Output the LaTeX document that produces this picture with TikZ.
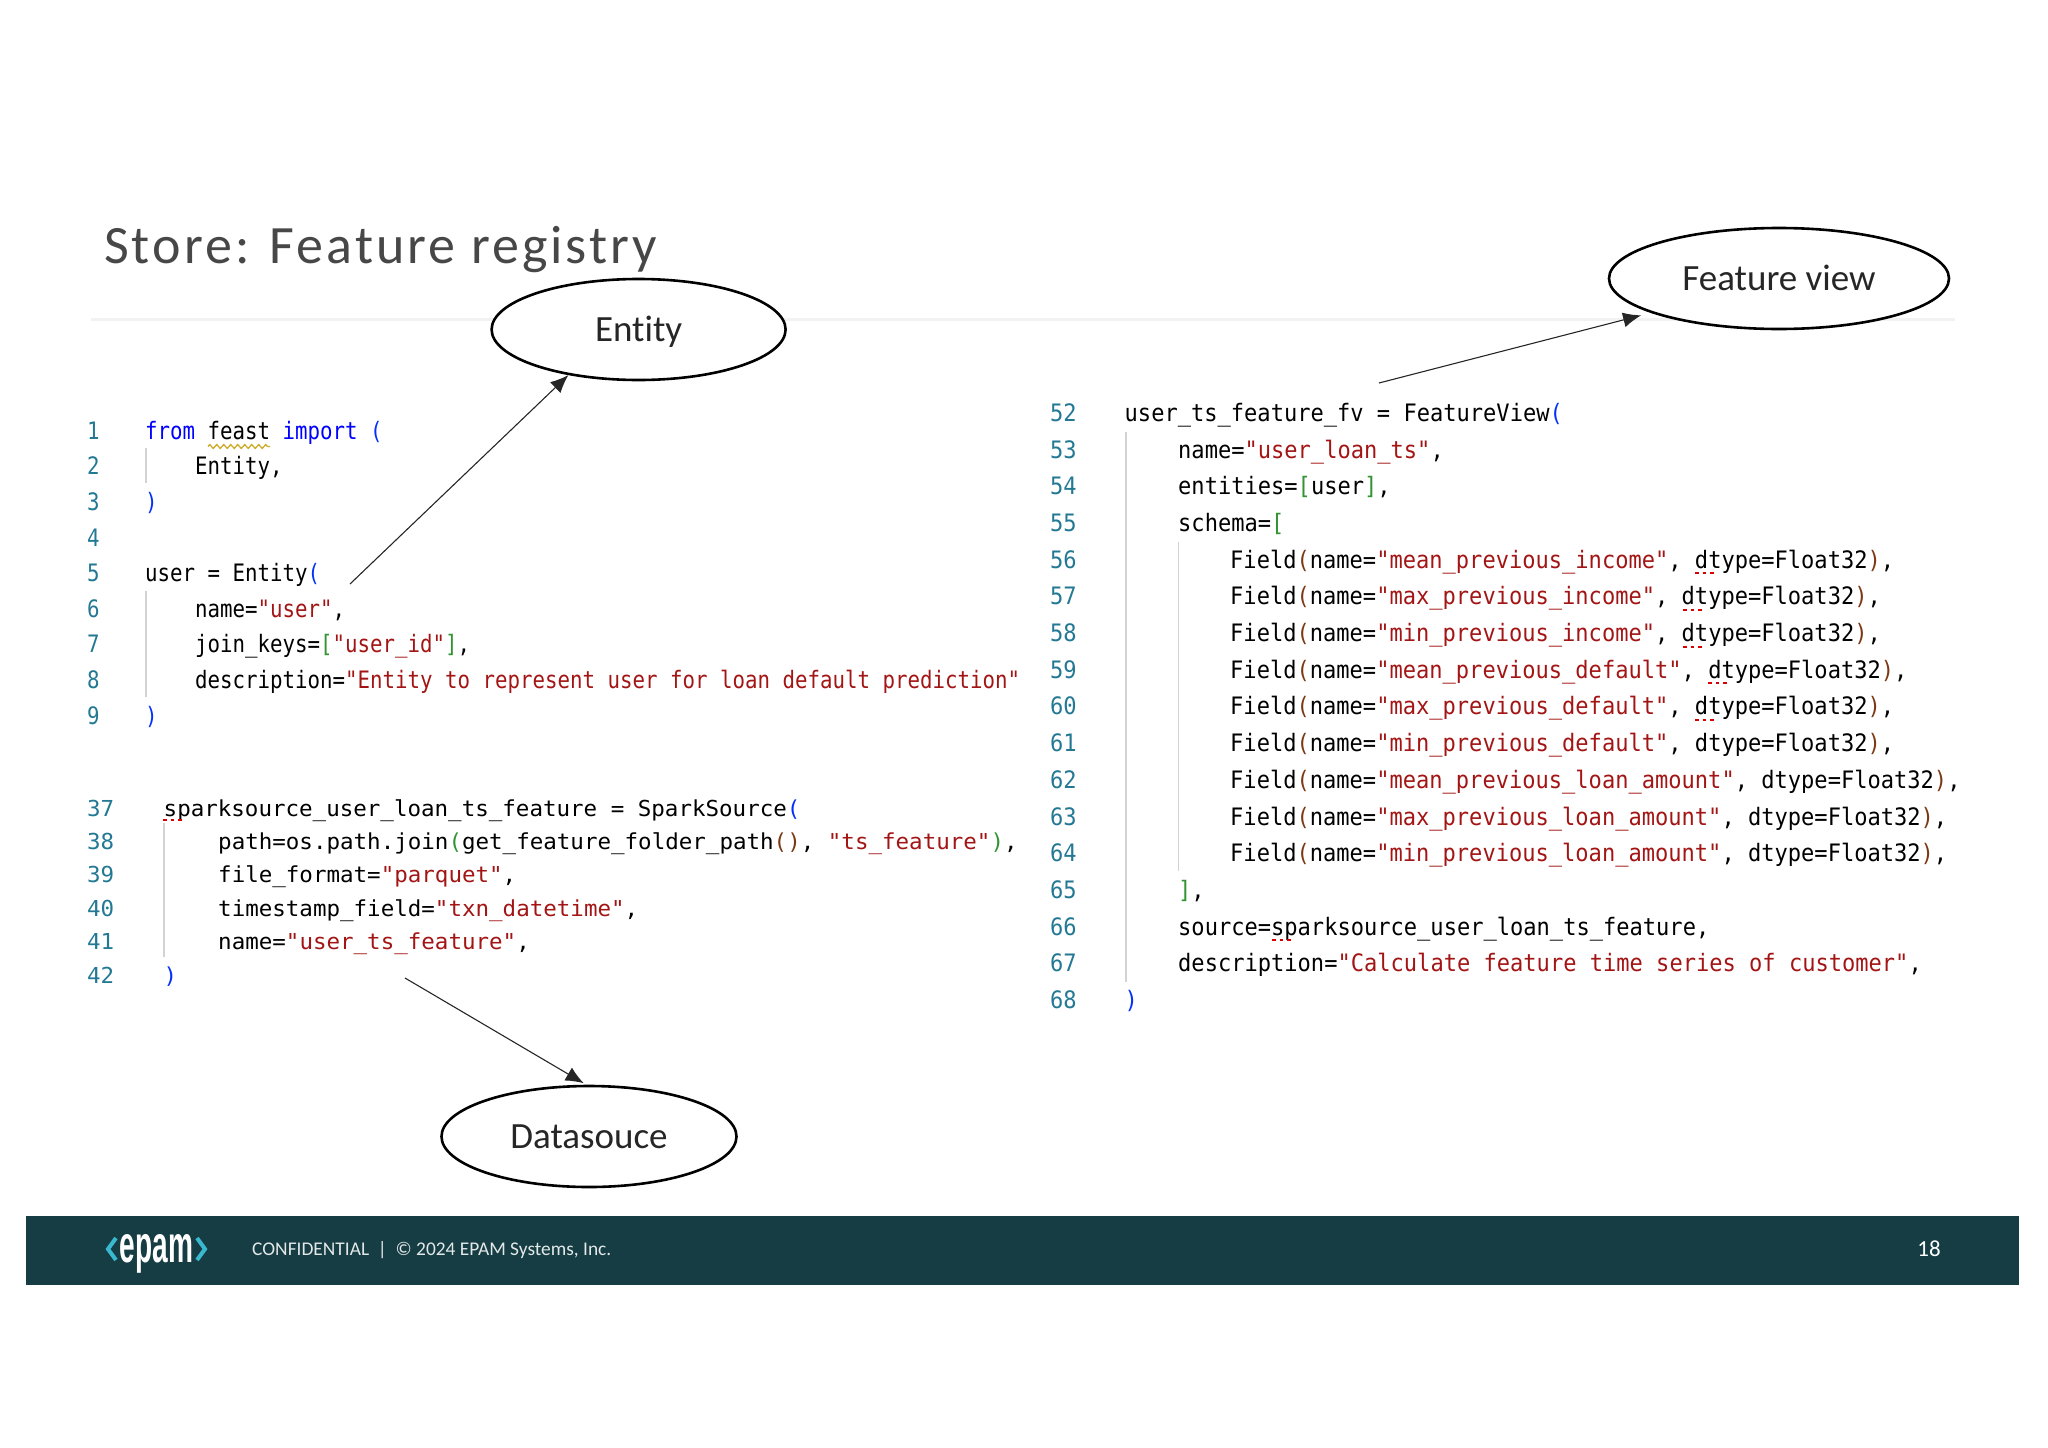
\documentclass[tikz,border=0pt]{standalone}
\usepackage{fontspec}
\usetikzlibrary{positioning, shapes.geometric, arrows.meta, decorations.pathmorphing}
\setmainfont[Ligatures=NoCommon]{Carlito}
\newfontfamily\titlefont[Ligatures=NoCommon,LetterSpace=5.6]{Carlito}
\newfontfamily\entfont[FakeStretch=0.865]{DejaVu Sans Mono}
\newfontfamily\srcfont[FakeStretch=1.023]{DejaVu Sans Mono}
\newfontfamily\fvfont[FakeStretch=0.919]{DejaVu Sans Mono}
\newfontfamily\logofont[FakeStretch=0.54]{Liberation Sans}
\definecolor{kwblue}{HTML}{0000FF}
\definecolor{parenblue}{HTML}{0431FA}
\definecolor{strred}{HTML}{A31515}
\definecolor{brkgreen}{HTML}{319331}
\definecolor{brkbrown}{HTML}{7B3814}
\definecolor{linenum}{HTML}{237893}
\definecolor{guidegrey}{HTML}{D3D3D3}
\definecolor{barteal}{HTML}{163D43}
\definecolor{logocyan}{HTML}{39B8CF}
\newcommand{\kw}[1]{\textcolor{kwblue}{#1}}
\newcommand{\pb}[1]{\textcolor{parenblue}{#1}}
\newcommand{\st}[1]{\textcolor{strred}{#1}}
\newcommand{\gb}[1]{\textcolor{brkgreen}{#1}}
\newcommand{\bb}[1]{\textcolor{brkbrown}{#1}}
\tikzset{
    entcode/.style={anchor=base west, inner sep=0pt, font=\entfont\fontsize{24}{24}\selectfont},
    srccode/.style={anchor=base west, inner sep=0pt, font=\srcfont\fontsize{22}{22}\selectfont},
    fvcode/.style={anchor=base west, inner sep=0pt, font=\fvfont\fontsize{24}{24}\selectfont},
    tag/.style={ellipse, draw=black, line width=2.6pt, fill=white, text=black!85,
        minimum width=#1, minimum height=101pt, inner sep=0pt, text height=28pt, text depth=3.6pt,
        font=\fontsize{37}{37}\selectfont},
    guide/.style={guidegrey, line width=1.3pt},
    pointer/.style={-{Latex[length=18pt,width=15pt]}, black!85, line width=1.1pt},
    reddots/.style={red!85!black, line width=2.6pt, dash pattern=on 3.5pt off 4pt},
}
\begin{document}
\begin{tikzpicture}[x=1pt, y=-1pt]
    \useasboundingbox (0,0) rectangle (2048,1448);
    % title
    \node[anchor=base west, inner sep=0pt, text=black!72, font=\titlefont\fontsize{54}{54}\selectfont] (title) at (104,263.5) {Store: Feature registry};
    \draw[black!5, line width=3pt] (91,319) -- (1955,319);
    % entity block
    \foreach \n/\y in {1/0,2/1,3/2,4/3,5/4,6/5,7/6,8/7,9/8}
        \node[entcode, text=linenum] (entnum\n) at (87,{439.3+35.6*\y}) {\n};
    \node[entcode] (ent1) at (145,439.3) {\kw{from} feast \kw{import} \pb{(}};
    \node[entcode] (ent2) at (195,474.9) {Entity,};
    \node[entcode] (ent3) at (145,510.5) {\pb{)}};
    \node[entcode] (ent5) at (145,581.7) {user = Entity\pb{(}};
    \node[entcode] (ent6) at (195,617.3) {name=\st{"user"},};
    \node[entcode] (ent7) at (195,652.9) {join\_keys=\gb{[}\st{"user\_id"}\gb{]},};
    \node[entcode] (ent8) at (195,688.5) {description=\st{"Entity to represent user for loan default prediction"}};
    \node[entcode] (ent9) at (145,724.1) {\pb{)}};
    \draw[guide] (146,448) -- (146,483);
    \draw[guide] (146,591) -- (146,697);
    \draw[black!30!yellow!70!orange, line width=1.3pt, decorate, decoration={zigzag, segment length=7pt, amplitude=2pt}] (208,446.5) -- (270,446.5);
    % datasource block
    \foreach \n/\y in {37/0,38/1,39/2,40/3,41/4,42/5}
        \node[srccode, text=linenum] (srcnum\n) at (87,{816+33.4*\y}) {\n};
    \node[srccode] (src37) at (163.5,816) {sparksource\_user\_loan\_ts\_feature = SparkSource\pb{(}};
    \node[srccode] (src38) at (218,849.4) {path=os.path.join\gb{(}get\_feature\_folder\_path\bb{()}, \st{"ts\_feature"}\gb{)},};
    \node[srccode] (src39) at (218,882.8) {file\_format=\st{"parquet"},};
    \node[srccode] (src40) at (218,916.2) {timestamp\_field=\st{"txn\_datetime"},};
    \node[srccode] (src41) at (218,949.6) {name=\st{"user\_ts\_feature"},};
    \node[srccode] (src42) at (163.5,983) {\pb{)}};
    \draw[guide] (164,823) -- (164,957);
    \draw[reddots] (163,820) -- (182,820);
    % feature view block
    \foreach \n in {52,...,68}
        \node[fvcode, text=linenum] (fvnum\n) at (1050,{421.3+36.7*(\n-52)}) {\n};
    \node[fvcode] (fv52) at (1124.5,421.3) {user\_ts\_feature\_fv = FeatureView\pb{(}};
    \node[fvcode] (fv53) at (1178,458) {name=\st{"user\_loan\_ts"},};
    \node[fvcode] (fv54) at (1178,494.7) {entities=\gb{[}user\gb{]},};
    \node[fvcode] (fv55) at (1178,531.4) {schema=\gb{[}};
    \foreach \n/\fld in {56/mean\_previous\_income,57/max\_previous\_income,58/min\_previous\_income,
        59/mean\_previous\_default,60/max\_previous\_default,61/min\_previous\_default,
        62/mean\_previous\_loan\_amount,63/max\_previous\_loan\_amount,64/min\_previous\_loan\_amount}
        \node[fvcode] (fv\n) at (1230,{421.3+36.7*(\n-52)}) {Field\bb{(}name=\st{"\fld"}, dtype=Float32\bb{)},};
    \node[fvcode] (fv65) at (1178,898.4) {\gb{]},};
    \node[fvcode] (fv66) at (1178,935.1) {source=sparksource\_user\_loan\_ts\_feature,};
    \node[fvcode] (fv67) at (1178,971.8) {description=\st{"Calculate feature time series of customer"},};
    \node[fvcode] (fv68) at (1124.5,1008.5) {\pb{)}};
    \draw[guide] (1126,432) -- (1126,982);
    \draw[guide] (1178.5,542) -- (1178.5,871);
    \foreach \xa/\ya in {1695/573,1683/610,1683/647,1708/683,1695/720,1272/940}
        \draw[reddots] (\xa,\ya) -- ++(19,0);
    % tags
    \node[tag=294pt] (entity) at (638.6,329.5) {Entity};
    \node[tag=340pt] (fview) at (1779,278.5) {Feature view};
    \node[tag=295pt] (dsource) at (589,1136.5) {Datasouce};
    \coordinate (entstart) at (350,584);
    \coordinate (fvstart) at (1379,383);
    \coordinate (srcstart) at (405,978);
    \draw[pointer] (entstart) -- (entity.213);
    \draw[pointer, shorten >=10pt] (fvstart) -- (fview.195);
    \draw[pointer, shorten >=3pt] (srcstart) -- (dsource.93);
    % footer
    \fill[barteal] (26,1216) rectangle (2019,1285);
    \node[anchor=base, inner sep=0pt, text=white, font=\logofont\bfseries\fontsize{52}{52}\selectfont] (logo) at (156.5,1262) {epam};
    \draw[logocyan, line width=4pt] (116,1238) -- (108,1249) -- (116,1260);
    \draw[logocyan, line width=4pt] (197,1238) -- (205,1249) -- (197,1260);
    \node[anchor=base west, inner sep=0pt, text=white!88!barteal, font=\fontsize{19.4}{19.4}\selectfont] (conf) at (252,1255) {CONFIDENTIAL\ \ |\ \ © 2024 EPAM Systems, Inc.};
    \node[anchor=base, inner sep=0pt, text=white, font=\fontsize{23}{23}\selectfont] (pagenum) at (1929,1256) {18};
\end{tikzpicture}
\end{document}
